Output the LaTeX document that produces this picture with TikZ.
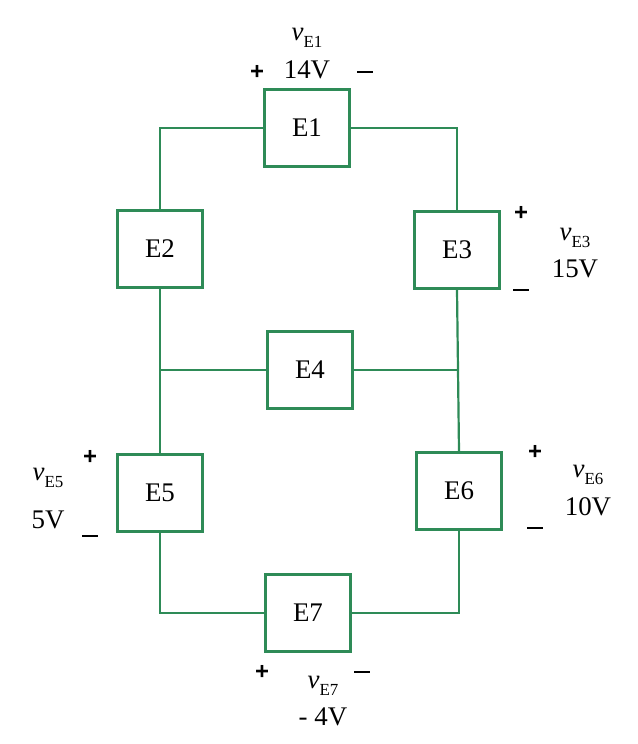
\documentclass[tikz,border=0pt]{standalone}
\usepackage{fontspec}
\setmainfont{Liberation Serif}
\newfontfamily\sansf{Liberation Sans}
\definecolor{wire}{RGB}{46,139,87}
\newcommand{\vlab}[1]{\textit{v}\raisebox{-0.25em}{\fontsize{17}{18}\selectfont E#1}}
\begin{document}
\begin{tikzpicture}[x=1bp,y=-1bp,
  box/.style={draw=wire,line width=2.4bp,minimum width=85bp,minimum height=77bp,inner sep=0pt,font=\fontsize{27}{30}\selectfont},
  w/.style={draw=wire,line width=2.2bp},
  lab/.style={font=\fontsize{27}{30}\selectfont,inner sep=0pt},
  sg/.style={font=\sansf\bfseries\fontsize{24}{26}\selectfont,inner sep=0pt},
  mn/.style={fill=black,minimum width=16bp,minimum height=2.8bp,inner sep=0pt}]
\useasboundingbox (0,0) rectangle (638,744);
\node[box] (E1) at (307,128) {E1};
\node[box] (E2) at (160,249) {E2};
\node[box] (E3) at (457,250) {E3};
\node[box] (E4) at (310,370) {E4};
\node[box] (E5) at (160,493) {E5};
\node[box] (E6) at (459,491) {E6};
\node[box] (E7) at (308,613) {E7};
\coordinate (jl) at (160,370);
\coordinate (jr) at (458,370);
\draw[w] (E1.west) -| (E2.north);
\draw[w] (E1.east) -| (E3.north);
\draw[w] (E2.south) -- (jl) -- (E5.north);
\draw[w] (E4.west) -- (jl);
\draw[w] (E4.east) -- (jr);
\draw[w] (E3.south) -- (jr) -- (E6.north);
\draw[w] (E5.south) |- (E7.west);
\draw[w] (E7.east) -| (E6.south);
% labels
\node[lab] (v1) at (307,38) {\vlab{1}};
\node[lab] (n1) at (307,70) {14V};
\node[sg] (p1) at (257,72) {+};
\node[mn] (m1) at (365,72) {};
\node[sg] (p3) at (521,213) {+};
\node[lab] (v3) at (575,238) {\vlab{3}};
\node[lab] (n3) at (575,269) {15V};
\node[mn] (m3) at (521,290) {};
\node[lab] (v5) at (48,478) {\vlab{5}};
\node[lab] (n5) at (48,520) {5V};
\node[sg] (p5) at (90,457) {+};
\node[mn] (m5) at (90,536) {};
\node[sg] (p6) at (535,452) {+};
\node[lab] (v6) at (588,475) {\vlab{6}};
\node[lab] (n6) at (588,507) {10V};
\node[mn] (m6) at (535,528) {};
\node[sg] (p7) at (262,672) {+};
\node[lab] (v7) at (323,686) {\vlab{7}};
\node[lab] (n7) at (323,717) {- 4V};
\node[mn] (m7) at (362,672) {};
\end{tikzpicture}
\end{document}
